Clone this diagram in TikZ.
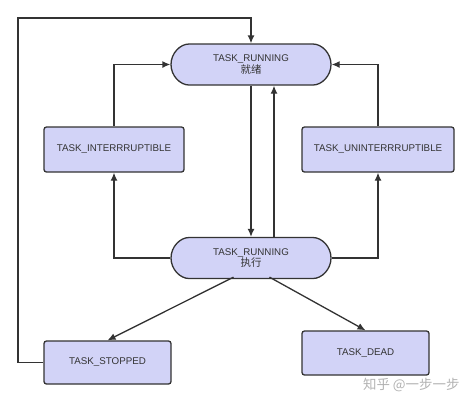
\documentclass[tikz,border=0pt]{standalone}
\usepackage{fontspec}
\setmainfont{Liberation Sans}
\newfontfamily\cjk{Noto Sans CJK SC}
\usetikzlibrary{arrows.meta,shapes.misc}
\definecolor{nodefill}{HTML}{D2D3F7}
\definecolor{edgecol}{HTML}{333333}
\begin{document}
\begin{tikzpicture}[x=1bp,y=-1bp,
  state/.style={draw=edgecol,fill=nodefill,line width=1.3bp,rounded corners=2.5bp,
    font=\fontsize{9.8}{12}\selectfont,text=black!80,align=center,inner sep=0pt},
  run/.style={state,rounded rectangle,minimum width=160bp,minimum height=41bp},
  flow/.style={draw=edgecol,line width=1.3bp,-{Latex[length=8bp,width=7bp]}}]
\useasboundingbox (0,0) rectangle (474,405);
\node[run] (top) at (251,64.5) {TASK\_RUNNING\\{\cjk\fontsize{10.5}{12}\selectfont 就绪}};
\node[run] (bot) at (251,258) {TASK\_RUNNING\\{\cjk\fontsize{10.5}{12}\selectfont 执行}};
\node[state,minimum width=140bp,minimum height=45bp] (int) at (114,149.5) {TASK\_INTERRRUPTIBLE};
\node[state,minimum width=152bp,minimum height=45bp] (unint) at (378,149.5) {TASK\_UNINTERRRUPTIBLE};
\node[state,minimum width=127bp,minimum height=43bp] (stop) at (107.5,362.5) {TASK\_STOPPED};
\node[state,minimum width=127bp,minimum height=44bp] (dead) at (365.5,353) {TASK\_DEAD};
\coordinate (c1) at (18,362.5);
\coordinate (c2) at (18,18);
\coordinate (c3) at (251,18);
% stopped -> top
\draw[flow] (stop.west) -- (c1) -- (c2) -- (c3) -- (top.north);
% top <-> bot
\draw[flow] (top.south) -- (bot.north);
\draw[flow] (bot.north -| 274,0) -- (top.south -| 274,0);
% interruptible
\draw[flow] (int.north) |- (top.west);
\draw[flow] (bot.west) -| (int.south);
% uninterruptible
\draw[flow] (unint.north) |- (top.east);
\draw[flow] (bot.east) -| (unint.south);
% to stopped and dead
\draw[flow] (bot.south west) ++(42,-2) coordinate (s1) -- (stop.north);
\draw[flow] (bot.south east) ++(-41,-2) coordinate (s2) -- (dead.north);
\node[text=black!30,font=\cjk\fontsize{13.5}{15}\selectfont,anchor=east] (wm) at (463,385) {知乎 @一步一步};
\end{tikzpicture}
\end{document}
